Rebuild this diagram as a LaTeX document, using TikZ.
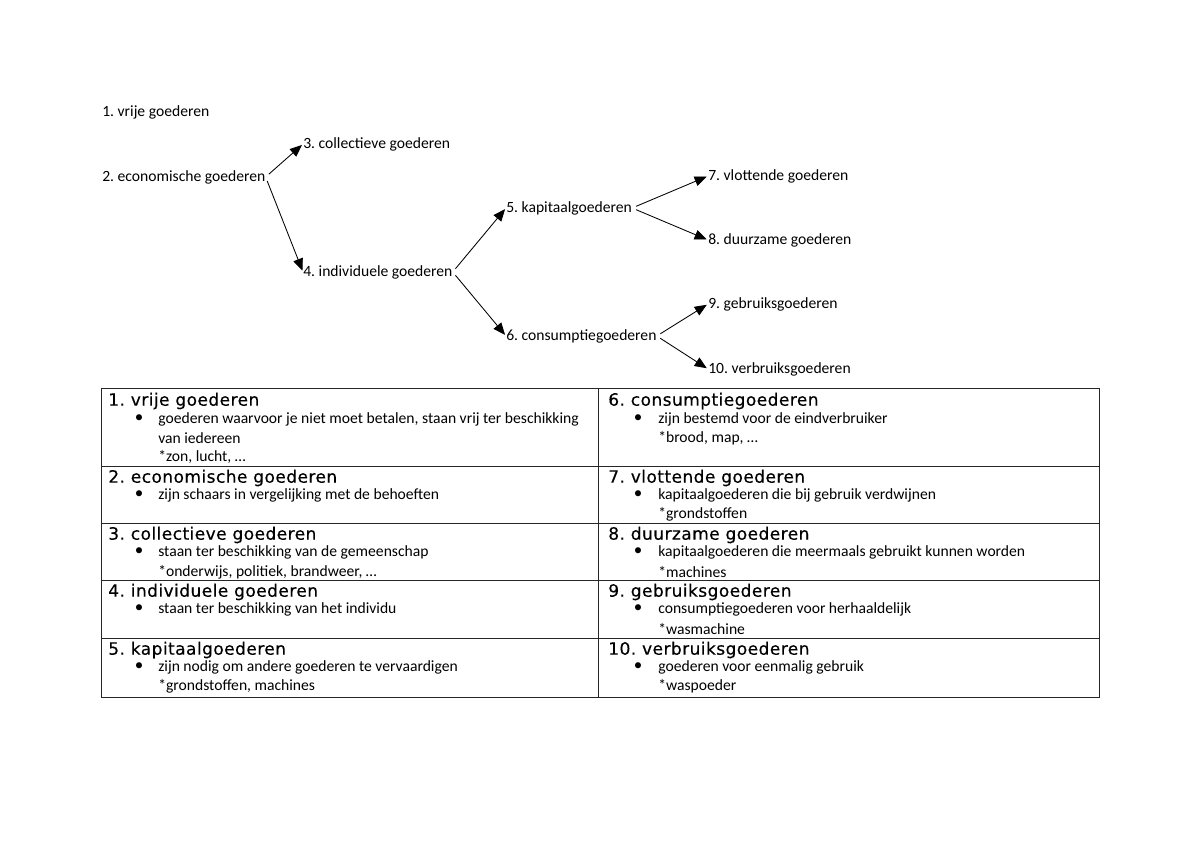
\documentclass[tikz,border=0pt]{standalone}
\usepackage{fontspec}
\setmainfont{Carlito}
\newfontfamily\kopfont[LetterSpace=2.5, FakeBold=0.3]{DejaVu Sans}
\usetikzlibrary{arrows.meta, positioning}
\frenchspacing

\begin{document}
\begin{tikzpicture}[
    x=0.02475cm, y=-0.02475cm,
    goed/.style={anchor=west, inner sep=0pt, font=\fontsize{11}{13.4}\selectfont},
    kop/.style={anchor=west, inner sep=0pt, font=\kopfont\fontsize{12}{14}\selectfont},
    tekst/.style={anchor=west, inner sep=0pt, font=\fontsize{11}{13.4}\selectfont},
    punt/.style={anchor=center, inner sep=0pt, font=\fontsize{12}{13.4}\selectfont},
    arr/.style={-{Triangle[length=8.5pt, width=7pt]}, semithick, shorten <=3pt, shorten >=1pt},
    lijn/.style={draw=black!85, semithick},
]
\useasboundingbox (0,0) rectangle (1200,849);

%% ---- BOOM ----
\node[goed] (vrij)  at (102,112) {1. vrije goederen};
\node[goed] (econ)  at (102,177) {2. economische goederen};
\node[goed] (coll)  at (303,144) {3. collectieve goederen};
\node[goed] (indiv) at (303,272) {4. individuele goederen};
\node[goed] (kap)   at (506,208) {5. kapitaalgoederen};
\node[goed] (cons)  at (506,336) {6. consumptiegoederen};
\node[goed] (vlot)  at (708,176) {7. vlottende goederen};
\node[goed] (duur)  at (708,240) {8. duurzame goederen};
\node[goed] (gebr)  at (708,304) {9. gebruiksgoederen};
\node[goed] (verbr) at (708,369) {10. verbruiksgoederen};

%% ---- PIJLEN ----
\draw[arr] (econ.east)  -- (coll.west);
\draw[arr] (econ.east)  -- (indiv.west);
\draw[arr] (indiv.east) -- (kap.west);
\draw[arr] (indiv.east) -- (cons.west);
\draw[arr] (kap.east)   -- (vlot.west);
\draw[arr] (kap.east)   -- (duur.west);
\draw[arr] (cons.east)  -- (gebr.west);
\draw[arr] (cons.east)  -- (verbr.west);

%% ---- TABEL ----
\coordinate (tl) at (101,388);
\coordinate (br) at (1099,697);
\draw[lijn] (tl) rectangle (br);
\draw[lijn] (598,388) -- (598,697);
\foreach \y in {466,523,580,638}
    \draw[lijn] (101,\y) -- (1099,\y);

%% ---- LINKS ----
\node[kop] (h1) at (108,401) {1. vrije goederen};
\node[punt] (p1) at (139,419) {•};
\node[tekst] (t1) at (158,419) {goederen waarvoor je niet moet betalen, staan vrij ter beschikking};
\node[tekst] (t1b) at (158,438) {van iedereen};
\node[tekst] (v1) at (158,457) {*zon, lucht, …};

\node[kop] (h2) at (108,478) {2. economische goederen};
\node[punt] (p2) at (139,495) {•};
\node[tekst] (t2) at (158,495) {zijn schaars in vergelijking met de behoeften};

\node[kop] (h3) at (108,535) {3. collectieve goederen};
\node[punt] (p3) at (139,552) {•};
\node[tekst] (t3) at (158,552) {staan ter beschikking van de gemeenschap};
\node[tekst] (v3) at (158,572) {*onderwijs, politiek, brandweer, …};

\node[kop] (h4) at (108,592) {4. individuele goederen};
\node[punt] (p4) at (139,609) {•};
\node[tekst] (t4) at (158,609) {staan ter beschikking van het individu};

\node[kop] (h5) at (108,650) {5. kapitaalgoederen};
\node[punt] (p5) at (139,667) {•};
\node[tekst] (t5) at (158,667) {zijn nodig om andere goederen te vervaardigen};
\node[tekst] (v5) at (158,686) {*grondstoffen, machines};

%% ---- RECHTS ----
\node[kop] (h6) at (608,401) {6. consumptiegoederen};
\node[punt] (p6) at (638,419) {•};
\node[tekst] (t6) at (658,419) {zijn bestemd voor de eindverbruiker};
\node[tekst] (v6) at (658,438) {*brood, map, …};

\node[kop] (h7) at (608,478) {7. vlottende goederen};
\node[punt] (p7) at (638,495) {•};
\node[tekst] (t7) at (658,495) {kapitaalgoederen die bij gebruik verdwijnen};
\node[tekst] (v7) at (658,514) {*grondstoffen};

\node[kop] (h8) at (608,535) {8. duurzame goederen};
\node[punt] (p8) at (638,552) {•};
\node[tekst] (t8) at (658,552) {kapitaalgoederen die meermaals gebruikt kunnen worden};
\node[tekst] (v8) at (658,572) {*machines};

\node[kop] (h9) at (608,592) {9. gebruiksgoederen};
\node[punt] (p9) at (638,609) {•};
\node[tekst] (t9) at (658,609) {consumptiegoederen voor herhaaldelijk};
\node[tekst] (v9) at (658,629) {*wasmachine};

\node[kop] (h10) at (608,650) {10. verbruiksgoederen};
\node[punt] (p10) at (638,667) {•};
\node[tekst] (t10) at (658,667) {goederen voor eenmalig gebruik};
\node[tekst] (v10) at (658,686) {*waspoeder};

\end{tikzpicture}
\end{document}
